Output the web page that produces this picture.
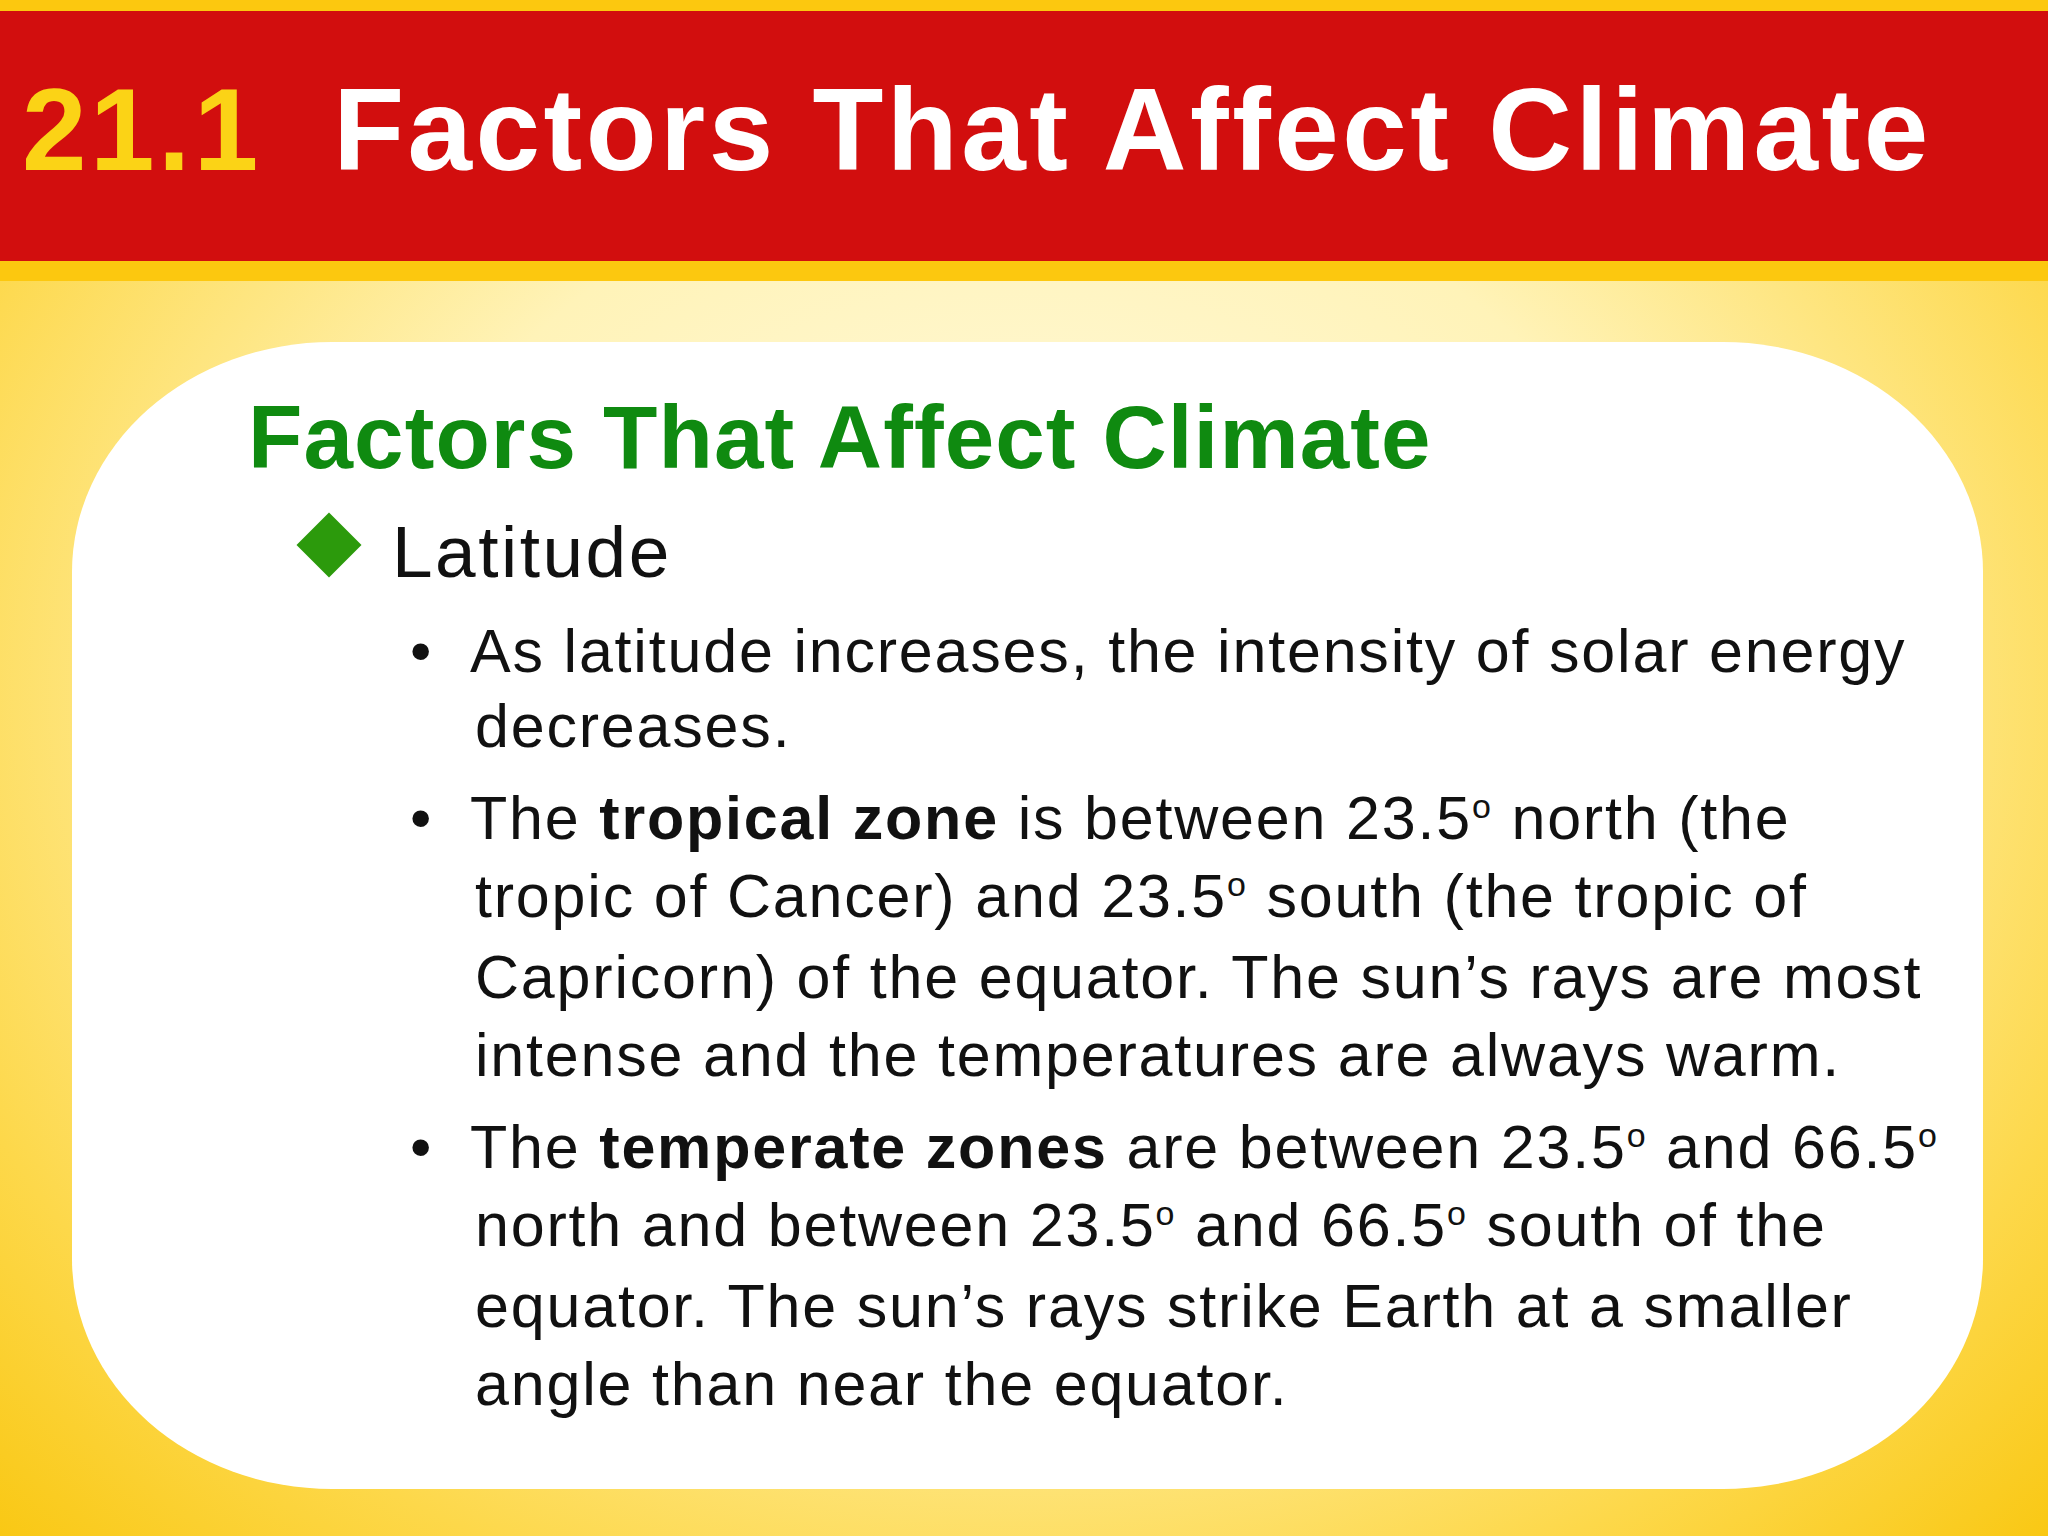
<!DOCTYPE html>
<html><head><meta charset="utf-8">
<script src="https://cdn.jsdelivr.net/npm/chart.js@4"></script>
<style>
html,body{margin:0;padding:0;width:2048px;height:1536px;overflow:hidden;font-family:"Liberation Sans",Arial,sans-serif;}
#bg{position:absolute;left:0;top:0;width:2048px;height:1536px;background:radial-gradient(ellipse at 50% 45%,#fffbe6 0%,#fff3b8 45%,#fdd84a 80%,#f9c814 100%);}
#topy{position:absolute;left:0;top:0;width:2048px;height:11px;background:#fcc80f;}
#red{position:absolute;left:0;top:11px;width:2048px;height:250px;background:#d20e0e;}
#yl{position:absolute;left:0;top:261px;width:2048px;height:20px;background:#fcc80f;}
.t{position:absolute;white-space:nowrap;line-height:1;}
#panel{position:absolute;left:72px;top:342px;width:1911px;height:1147px;background:#fff;border-radius:260px/230px;}
#dia{position:absolute;left:306px;top:522px;width:46px;height:46px;background:#2c9a0c;transform:rotate(45deg);}
.b{font-size:61px;color:#111;letter-spacing:1.8px;}
sup{font-size:34px;}
</style></head><body>
<div id="bg"></div><div id="topy"></div><div id="red"></div><div id="yl"></div>
<div class="t" style="left:22px;top:72px;font-size:116px;font-weight:bold;color:#fff;letter-spacing:3.5px;"><span style="color:#fbd316">21.1</span>&nbsp; Factors That Affect Climate</div>
<div id="panel"></div>
<div class="t" style="left:248px;top:393px;font-size:89px;font-weight:bold;color:#0f8a10;letter-spacing:1.1px;">Factors That Affect Climate</div>
<div id="dia"></div>
<div class="t" style="left:392px;top:515px;font-size:73px;color:#111;letter-spacing:2.5px;">Latitude</div>
<div class="t b" style="left:410px;top:621px;">•</div>
<div class="t b" style="left:470px;top:621px;">As latitude increases, the intensity of solar energy</div>
<div class="t b" style="left:475px;top:696px;">decreases.</div>
<div class="t b" style="left:410px;top:788px;">•</div>
<div class="t b" style="left:470px;top:788px;">The <b>tropical zone</b> is between 23.5<sup>o</sup> north (the</div>
<div class="t b" style="left:475px;top:866px;">tropic of Cancer) and 23.5<sup>o</sup> south (the tropic of</div>
<div class="t b" style="left:475px;top:947px;">Capricorn) of the equator. The sun’s rays are most</div>
<div class="t b" style="left:475px;top:1025px;">intense and the temperatures are always warm.</div>
<div class="t b" style="left:410px;top:1117px;">•</div>
<div class="t b" style="left:470px;top:1117px;">The <b>temperate zones</b> are between 23.5<sup>o</sup> and 66.5<sup>o</sup></div>
<div class="t b" style="left:475px;top:1195px;">north and between 23.5<sup>o</sup> and 66.5<sup>o</sup> south of the</div>
<div class="t b" style="left:475px;top:1276px;">equator. The sun’s rays strike Earth at a smaller</div>
<div class="t b" style="left:475px;top:1354px;">angle than near the equator.</div>
</body></html>
